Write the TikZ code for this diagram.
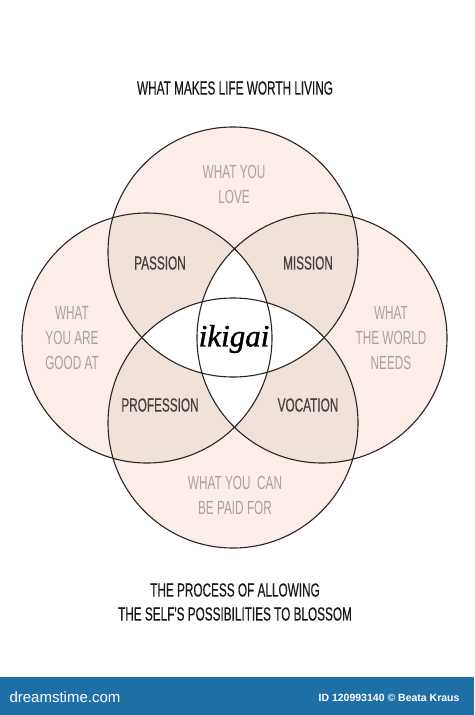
\documentclass[tikz,border=0pt]{standalone}
\usepackage{fontspec}
\setmainfont{Liberation Sans}
\newfontfamily\narrowfont{Liberation Sans}[FakeStretch=0.62]
\newfontfamily\narrowdark{Liberation Sans}[FakeStretch=0.62, FakeBold=0.4]
\newfontfamily\brushfont{Liberation Serif}[FakeBold=1.2]
\definecolor{petal}{HTML}{FCEDE9}
\definecolor{overlap}{HTML}{F0E1D9}
\definecolor{outertext}{HTML}{A6A3A2}
\definecolor{innertext}{HTML}{454040}
\definecolor{stockblue}{HTML}{1F6FA7}
\newcommand{\petalr}{125pt}
\tikzstyle{petalline} = [draw=black!85, line width=1.1pt]
\tikzstyle{headline} = [font=\narrowdark\fontsize{19}{24}\selectfont, text=black!90, align=center]
\tikzstyle{outerlabel} = [font=\narrowfont\fontsize{19}{25}\selectfont, text=outertext, align=center]
\tikzstyle{innerlabel} = [font=\narrowdark\fontsize{19}{25}\selectfont, text=innertext]

\begin{document}
\begin{tikzpicture}[x=1pt, y=-1pt]
    \useasboundingbox (0,0) rectangle (474,715);
    % circle centres
    \coordinate (love) at (233,252);
    \coordinate (good) at (147,338);
    \coordinate (world) at (322,338);
    \coordinate (paid) at (233,423);
    % single circles
    \foreach \c in {love,good,world,paid}
        \fill[petal] (\c) circle[radius=\petalr];
    % two circles
    \begin{scope}
        \clip (love) circle[radius=\petalr];
        \fill[overlap] (good) circle[radius=\petalr] (world) circle[radius=\petalr];
    \end{scope}
    \begin{scope}
        \clip (paid) circle[radius=\petalr];
        \fill[overlap] (good) circle[radius=\petalr] (world) circle[radius=\petalr];
    \end{scope}
    % three and four circles
    \begin{scope}
        \clip (love) circle[radius=\petalr];
        \fill[white] (paid) circle[radius=\petalr];
    \end{scope}
    \begin{scope}
        \clip (good) circle[radius=\petalr];
        \fill[white] (world) circle[radius=\petalr];
    \end{scope}
    \foreach \c in {love,good,world,paid}
        \draw[petalline] (\c) circle[radius=\petalr];

    \node[headline] (title) at (235,88) {WHAT MAKES LIFE WORTH LIVING};
    \node[outerlabel] (lovetext) at (234,184) {WHAT YOU\\LOVE};
    \node[outerlabel] (goodtext) at (72,338) {WHAT\\YOU ARE\\GOOD AT};
    \node[outerlabel] (worldtext) at (391,338) {WHAT\\THE WORLD\\NEEDS};
    \node[outerlabel] (paidtext) at (235,495) {WHAT YOU\ \ CAN\\BE PAID FOR};
    \node[innerlabel] (passion) at (160,263) {PASSION};
    \node[innerlabel] (mission) at (308,263) {MISSION};
    \node[innerlabel] (profession) at (160,405) {PROFESSION};
    \node[innerlabel] (vocation) at (308,405) {VOCATION};
    \node[font=\brushfont\itshape\fontsize{31}{31}\selectfont] (ikigai) at (234,339) {ikigai};
    \node[headline] (process) at (235,602) {THE PROCESS OF ALLOWING\\THE SELF'S POSSIBILITIES TO BLOSSOM};

    % stock bar
    \fill[stockblue] (0,677) rectangle (474,715);
    \node[text=white, font=\fontsize{15}{15}\selectfont, anchor=west] (site) at (6,697) {dreamstime.com};
    \node[text=white, font=\bfseries\fontsize{10.5}{10.5}\selectfont, anchor=east] (credit) at (463,698) {ID 120993140 © Beata Kraus};
\end{tikzpicture}
\end{document}
